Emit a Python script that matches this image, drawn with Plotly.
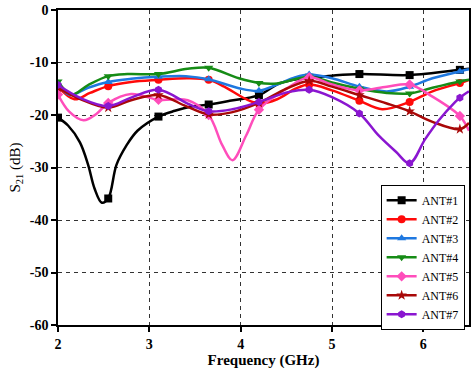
import plotly.graph_objects as go

MARKER_F = [2.0, 2.55, 3.1, 3.65, 4.2, 4.75, 5.3, 5.85, 6.4]

ant1_f = [2.0, 2.11, 2.24, 2.33, 2.40, 2.48, 2.55, 2.64, 2.75, 2.87, 3.1, 3.28, 3.46, 3.65, 3.88, 4.2, 4.42, 4.64, 4.75, 5.0, 5.3, 5.85, 6.4, 6.5]
ant1_s = [-20.5, -22, -25.2, -29.5, -34, -36.7, -35.9, -29.5, -25.8, -23, -20.3, -19.2, -18.4, -18, -17.3, -16.2, -14.0, -13.1, -12.9, -12.5, -12.2, -12.4, -11.4, -11.2]

ant2_f = [2.0, 2.18, 2.35, 2.55, 2.8, 3.1, 3.42, 3.65, 3.82, 4.05, 4.2, 4.4, 4.6, 4.75, 5.0, 5.3, 5.55, 5.85, 6.1, 6.4, 6.5]
ant2_s = [-14.6, -17.0, -15.8, -14.5, -13.7, -13.3, -13.0, -13.3, -14.6, -16.9, -17.8, -17.0, -15.0, -14.2, -15.3, -17.3, -18.9, -17.5, -15.5, -13.9, -13.3]

ant3_f = [2.0, 2.13, 2.33, 2.55, 2.8, 3.1, 3.4, 3.65, 3.98, 4.2, 4.4, 4.6, 4.75, 5.0, 5.3, 5.6, 5.85, 6.1, 6.4, 6.5]
ant3_s = [-14.0, -16.2, -14.8, -13.7, -13.1, -12.7, -12.6, -13.2, -14.9, -15.4, -14.2, -12.8, -12.3, -13.0, -14.6, -15.5, -14.6, -13.0, -11.7, -11.3]

ant4_f = [2.0, 2.15, 2.33, 2.55, 2.76, 3.1, 3.42, 3.65, 3.98, 4.2, 4.4, 4.75, 5.0, 5.3, 5.6, 5.85, 6.1, 6.4, 6.5]
ant4_s = [-13.6, -16.1, -14.3, -12.6, -12.2, -12.2, -11.2, -11.0, -13.0, -13.9, -14.0, -12.7, -13.8, -15.0, -15.8, -15.9, -14.8, -13.6, -13.3]

ant5_f = [2.0, 2.12, 2.28, 2.42, 2.55, 2.8, 3.1, 3.42, 3.65, 3.8, 3.91, 4.06, 4.2, 4.5, 4.75, 5.0, 5.3, 5.6, 5.85, 6.1, 6.4, 6.5]
ant5_s = [-16.1, -19.3, -21.0, -19.8, -17.7, -16.0, -17.1, -17.2, -20.0, -25.8, -28.6, -23.9, -19.0, -15.0, -12.8, -14.2, -15.3, -14.6, -14.2, -16.5, -20.2, -23.0]

ant6_f = [2.0, 2.25, 2.55, 2.8, 3.1, 3.4, 3.65, 3.9, 4.2, 4.5, 4.75, 5.0, 5.3, 5.6, 5.85, 6.1, 6.4, 6.5]
ant6_s = [-14.8, -17.0, -18.6, -17.2, -16.2, -18.3, -19.9, -19.5, -17.7, -15.0, -13.5, -14.6, -16.2, -17.8, -19.3, -21.3, -22.7, -21.5]

ant7_f = [2.0, 2.25, 2.55, 2.8, 3.1, 3.44, 3.65, 3.91, 4.2, 4.53, 4.75, 5.0, 5.3, 5.51, 5.7, 5.85, 6.02, 6.17, 6.35, 6.4, 6.5]
ant7_s = [-14.3, -16.8, -18.3, -16.7, -15.2, -18.0, -19.3, -18.9, -17.5, -15.6, -15.2, -16.6, -19.7, -23.9, -27.0, -29.2, -24.6, -21.0, -17.5, -16.7, -15.5]

names = ["ANT#1", "ANT#2", "ANT#3", "ANT#4", "ANT#5", "ANT#6", "ANT#7"]
series_f = [ant1_f, ant2_f, ant3_f, ant4_f, ant5_f, ant6_f, ant7_f]
series_s = [ant1_s, ant2_s, ant3_s, ant4_s, ant5_s, ant6_s, ant7_s]
colors = ["#000000", "#ff0a0a", "#1f78e0", "#168c16", "#ff4dbb", "#a80808", "#8a16d0"]
symbols = ["square", "circle", "triangle-up", "triangle-down", "diamond", "star", "hexagon"]

fig = go.Figure()
for name, f, s, c, sym in zip(names, series_f, series_s, colors, symbols):
    fig.add_trace(go.Scatter(x=f, y=s, mode="lines", line=dict(color=c, width=2.5, shape="spline", smoothing=1.0),
                             showlegend=False, hoverinfo="skip"))
    mf = [x for x in f if x in MARKER_F]
    ms = [y for x, y in zip(f, s) if x in MARKER_F]
    fig.add_trace(go.Scatter(x=mf, y=ms, mode="markers", marker=dict(color=c, symbol=sym, size=8),
                             showlegend=False))
for name, c, sym in zip(names, colors, symbols):
    fig.add_trace(go.Scatter(x=[None], y=[None], mode="lines+markers", name=name,
                             line=dict(color=c, width=2.5), marker=dict(color=c, symbol=sym, size=8)))

axis_common = dict(showline=True, linecolor="black", linewidth=1.5, mirror=True,
                   ticks="outside", ticklen=5, tickwidth=1.5, tickcolor="black",
                   showgrid=True, gridcolor="#333333", gridwidth=1, griddash="4px,4px",
                   zeroline=False, ticklabeloverflow="allow",
                   tickfont=dict(family="Liberation Serif", size=14, color="black", weight="bold"))

fig.update_xaxes(range=[2, 6.5], tickvals=[2, 3, 4, 5, 6], ticktext=["2", "3", "4", "5", "6"],
                 title=dict(text="Frequency (GHz)", font=dict(family="Liberation Serif", size=15, color="black", weight="bold"), standoff=4),
                 **axis_common)
fig.update_yaxes(range=[-60, 0], tickvals=[0, -10, -20, -30, -40, -50, -60],
                 ticktext=["0", "-10", "-20", "-30", "-40", "-50", "-60"],
                 title=dict(text="S<sub>21</sub> (dB)", font=dict(family="Liberation Serif", size=15, color="black"), standoff=6),
                 **axis_common)

fig.update_layout(width=474, height=372, margin=dict(l=58, r=3, t=6, b=47),
                  paper_bgcolor="white", plot_bgcolor="white",
                  legend=dict(x=0.785, y=0.445, xanchor="left", yanchor="top",
                              bgcolor="white", bordercolor="black", borderwidth=1,
                              font=dict(family="Liberation Serif", size=12, color="black"),
                              tracegroupgap=0, itemwidth=30))

fig.write_html("out.html", config={"displayModeBar": False},
               post_script="document.body.style.margin='0';document.body.style.overflow='hidden';")
